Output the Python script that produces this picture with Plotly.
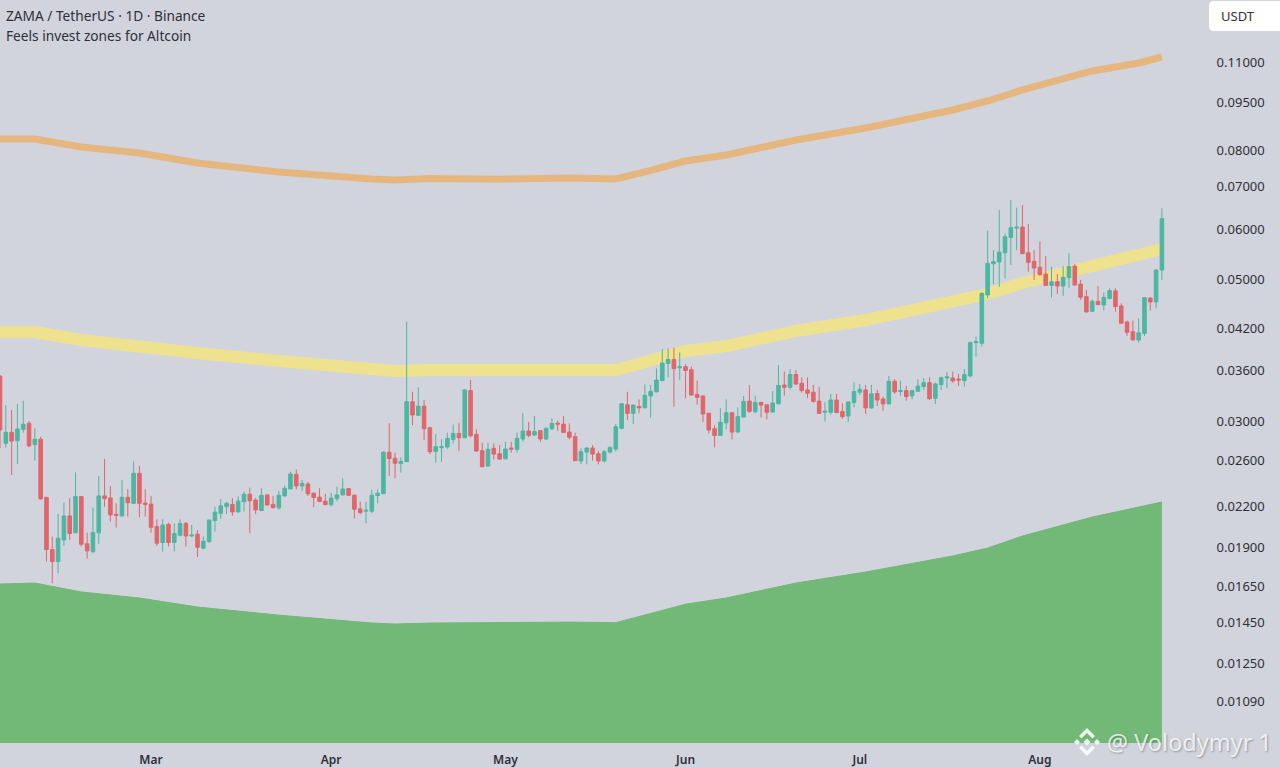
import plotly.graph_objects as go
import pandas as pd

# Daily candles, ZAMA/USDT (Feb 3 to Aug 22)
opens = [
    0.03530, 0.02769, 0.02881, 0.02796, 0.02913, 0.02976, 0.02756, 0.02810, 0.02275, 0.01885,
    0.01805, 0.01952, 0.02129, 0.02003, 0.02283, 0.01925, 0.01871, 0.02003, 0.02289, 0.02272,
    0.02142, 0.02129, 0.02278, 0.02228, 0.02484, 0.02230, 0.02222, 0.02048, 0.01934, 0.02065,
    0.01934, 0.01986, 0.02072, 0.01980, 0.01993, 0.01894, 0.01941, 0.02094, 0.02150, 0.02202,
    0.02220, 0.02160, 0.02241, 0.02303, 0.02255, 0.02171, 0.02297, 0.02220, 0.02192, 0.02289,
    0.02347, 0.02475, 0.02373, 0.02390, 0.02311, 0.02279, 0.02246, 0.02218, 0.02266, 0.02297,
    0.02350, 0.02294, 0.02184, 0.02166, 0.02166, 0.02292, 0.02308, 0.02681, 0.02623, 0.02573,
    0.02591, 0.03218, 0.03064, 0.03167, 0.02929, 0.02689, 0.02725, 0.02732, 0.02808, 0.02870,
    0.02825, 0.03351, 0.02860, 0.02696, 0.02550, 0.02719, 0.02666, 0.02618, 0.02722, 0.02709,
    0.02812, 0.02895, 0.02853, 0.02898, 0.02812, 0.02919, 0.02978, 0.02968, 0.02884, 0.02836,
    0.02597, 0.02682, 0.02722, 0.02666, 0.02597, 0.02682, 0.02712, 0.02923, 0.03183, 0.03086,
    0.03163, 0.03148, 0.03285, 0.03336, 0.03473, 0.03697, 0.03750, 0.03639, 0.03653, 0.03613,
    0.03305, 0.03285, 0.03086, 0.02919, 0.02849, 0.02982, 0.03093, 0.02884, 0.03045, 0.03226,
    0.03104, 0.03210, 0.03183, 0.03100, 0.03195, 0.03418, 0.03391, 0.03551, 0.03440, 0.03359,
    0.03331, 0.03226, 0.03098, 0.03098, 0.03238, 0.03105, 0.03056, 0.03208, 0.03331, 0.03359,
    0.03147, 0.03315, 0.03250, 0.03192, 0.03465, 0.03339, 0.03351, 0.03287, 0.03343, 0.03399,
    0.03448, 0.03258, 0.03424, 0.03507, 0.03507, 0.03494, 0.03473, 0.03533, 0.03985, 0.03976,
    0.04735, 0.05302, 0.05335, 0.05517, 0.05832, 0.06032, 0.06055, 0.05517, 0.05348, 0.05234,
    0.05109, 0.04902, 0.04967, 0.04891, 0.05041, 0.05257, 0.04926, 0.04706, 0.04464, 0.04628,
    0.04567, 0.04677, 0.04805, 0.04551, 0.04295, 0.04146, 0.04024, 0.04120, 0.04683, 0.04617,
    0.05183,
]
highs = [
    0.03546, 0.03179, 0.03123, 0.03190, 0.03230, 0.03000, 0.02923, 0.02835, 0.02283, 0.01976,
    0.02145, 0.02233, 0.02272, 0.02492, 0.02283, 0.02005, 0.02194, 0.02460, 0.02617, 0.02372,
    0.02228, 0.02424, 0.02345, 0.02591, 0.02551, 0.02345, 0.02289, 0.02103, 0.02103, 0.02077,
    0.02072, 0.02103, 0.02084, 0.02060, 0.02023, 0.01976, 0.02098, 0.02202, 0.02263, 0.02241,
    0.02271, 0.02284, 0.02325, 0.02358, 0.02271, 0.02353, 0.02303, 0.02289, 0.02330, 0.02376,
    0.02498, 0.02519, 0.02425, 0.02408, 0.02317, 0.02353, 0.02306, 0.02317, 0.02367, 0.02439,
    0.02353, 0.02303, 0.02241, 0.02241, 0.02339, 0.02344, 0.02690, 0.02979, 0.02675, 0.02633,
    0.04301, 0.03336, 0.03391, 0.03238, 0.02940, 0.02863, 0.02808, 0.02877, 0.02964, 0.02982,
    0.03367, 0.03481, 0.02912, 0.02774, 0.02774, 0.02768, 0.02751, 0.02784, 0.02784, 0.02880,
    0.03086, 0.02992, 0.03056, 0.02905, 0.02933, 0.03030, 0.03004, 0.03056, 0.02975, 0.02877,
    0.02719, 0.02728, 0.02751, 0.02696, 0.02702, 0.02735, 0.02968, 0.03203, 0.03336, 0.03187,
    0.03245, 0.03427, 0.03418, 0.03631, 0.03894, 0.03903, 0.03917, 0.03847, 0.03684, 0.03653,
    0.03473, 0.03297, 0.03093, 0.02957, 0.03142, 0.03245, 0.03097, 0.03152, 0.03285, 0.03418,
    0.03289, 0.03218, 0.03183, 0.03344, 0.03675, 0.03590, 0.03622, 0.03608, 0.03515, 0.03515,
    0.03420, 0.03399, 0.03211, 0.03311, 0.03311, 0.03200, 0.03223, 0.03456, 0.03432, 0.03420,
    0.03420, 0.03359, 0.03279, 0.03533, 0.03490, 0.03473, 0.03407, 0.03359, 0.03490, 0.03503,
    0.03515, 0.03448, 0.03524, 0.03580, 0.03589, 0.03558, 0.03623, 0.04000, 0.04072, 0.04776,
    0.05974, 0.05569, 0.06439, 0.05915, 0.06673, 0.06494, 0.06556, 0.06121, 0.05569, 0.05742,
    0.05452, 0.05244, 0.05109, 0.05257, 0.05505, 0.05296, 0.05000, 0.04822, 0.04662, 0.04891,
    0.04776, 0.04851, 0.04851, 0.04595, 0.04315, 0.04315, 0.04351, 0.04695, 0.04695, 0.05195,
    0.06480,
]
lows = [
    0.02720, 0.02726, 0.02469, 0.02569, 0.02878, 0.02730, 0.02601, 0.02256, 0.01805, 0.01669,
    0.01730, 0.01910, 0.01952, 0.02003, 0.01906, 0.01823, 0.01860, 0.01925, 0.02202, 0.02086,
    0.02041, 0.02124, 0.02124, 0.02222, 0.02119, 0.02124, 0.02003, 0.01910, 0.01871, 0.01906,
    0.01871, 0.01976, 0.01906, 0.01972, 0.01835, 0.01889, 0.01929, 0.02011, 0.02106, 0.02145,
    0.02130, 0.02160, 0.02163, 0.01999, 0.02142, 0.02166, 0.02208, 0.02187, 0.02176, 0.02284,
    0.02347, 0.02344, 0.02330, 0.02289, 0.02199, 0.02238, 0.02212, 0.02202, 0.02246, 0.02297,
    0.02289, 0.02109, 0.02142, 0.02073, 0.02150, 0.02228, 0.02303, 0.02460, 0.02439, 0.02490,
    0.02591, 0.02957, 0.03056, 0.02801, 0.02663, 0.02581, 0.02591, 0.02715, 0.02768, 0.02696,
    0.02825, 0.02829, 0.02686, 0.02538, 0.02544, 0.02612, 0.02609, 0.02612, 0.02676, 0.02676,
    0.02784, 0.02829, 0.02846, 0.02781, 0.02801, 0.02905, 0.02898, 0.02877, 0.02808, 0.02597,
    0.02569, 0.02566, 0.02600, 0.02566, 0.02584, 0.02669, 0.02686, 0.02912, 0.03012, 0.02968,
    0.03086, 0.03144, 0.03033, 0.03329, 0.03469, 0.03514, 0.03160, 0.03481, 0.03257, 0.03289,
    0.03183, 0.02992, 0.02870, 0.02728, 0.02843, 0.02912, 0.02808, 0.02877, 0.03038, 0.03093,
    0.03086, 0.03041, 0.03019, 0.03093, 0.03187, 0.03289, 0.03359, 0.03418, 0.03327, 0.03260,
    0.03208, 0.03079, 0.02995, 0.03071, 0.03086, 0.03027, 0.02992, 0.03154, 0.03295, 0.03079,
    0.03139, 0.03170, 0.03116, 0.03192, 0.03311, 0.03287, 0.03230, 0.03246, 0.03335, 0.03359,
    0.03238, 0.03192, 0.03359, 0.03379, 0.03448, 0.03407, 0.03399, 0.03515, 0.03789, 0.03928,
    0.04677, 0.04926, 0.04880, 0.05029, 0.05276, 0.05569, 0.05491, 0.05152, 0.05000, 0.05072,
    0.04891, 0.04695, 0.04752, 0.04718, 0.04862, 0.04902, 0.04651, 0.04448, 0.04453, 0.04562,
    0.04475, 0.04662, 0.04459, 0.04264, 0.04082, 0.04014, 0.03985, 0.04082, 0.04475, 0.04514,
    0.05000,
]
closes = [
    0.02906, 0.02881, 0.02792, 0.02916, 0.02966, 0.02743, 0.02810, 0.02264, 0.01885, 0.01805,
    0.01964, 0.02129, 0.01998, 0.02283, 0.01922, 0.01876, 0.02005, 0.02289, 0.02267, 0.02137,
    0.02132, 0.02278, 0.02233, 0.02484, 0.02228, 0.02220, 0.02043, 0.01929, 0.02060, 0.01934,
    0.01998, 0.02072, 0.01980, 0.01986, 0.01901, 0.01943, 0.02098, 0.02158, 0.02208, 0.02228,
    0.02160, 0.02246, 0.02303, 0.02249, 0.02176, 0.02294, 0.02215, 0.02194, 0.02294, 0.02353,
    0.02478, 0.02373, 0.02396, 0.02306, 0.02276, 0.02244, 0.02218, 0.02271, 0.02297, 0.02347,
    0.02294, 0.02181, 0.02155, 0.02173, 0.02294, 0.02311, 0.02681, 0.02620, 0.02576, 0.02594,
    0.03219, 0.03067, 0.03167, 0.02919, 0.02686, 0.02735, 0.02735, 0.02819, 0.02870, 0.02825,
    0.03359, 0.02846, 0.02692, 0.02544, 0.02709, 0.02663, 0.02615, 0.02712, 0.02712, 0.02819,
    0.02895, 0.02849, 0.02888, 0.02812, 0.02923, 0.02975, 0.02968, 0.02880, 0.02829, 0.02600,
    0.02686, 0.02722, 0.02663, 0.02597, 0.02686, 0.02728, 0.02940, 0.03195, 0.03086, 0.03179,
    0.03148, 0.03293, 0.03340, 0.03481, 0.03701, 0.03750, 0.03627, 0.03653, 0.03604, 0.03297,
    0.03269, 0.03079, 0.02905, 0.02849, 0.02989, 0.03093, 0.02884, 0.03049, 0.03222, 0.03108,
    0.03210, 0.03179, 0.03097, 0.03203, 0.03414, 0.03391, 0.03551, 0.03431, 0.03351, 0.03319,
    0.03222, 0.03086, 0.03109, 0.03238, 0.03094, 0.03049, 0.03215, 0.03339, 0.03367, 0.03147,
    0.03311, 0.03238, 0.03192, 0.03465, 0.03335, 0.03351, 0.03279, 0.03351, 0.03407, 0.03448,
    0.03254, 0.03432, 0.03511, 0.03520, 0.03469, 0.03481, 0.03550, 0.03985, 0.04000, 0.04764,
    0.05308, 0.05341, 0.05528, 0.05846, 0.06040, 0.06055, 0.05498, 0.05328, 0.05222, 0.05097,
    0.04902, 0.04967, 0.04891, 0.05047, 0.05250, 0.04908, 0.04695, 0.04453, 0.04628, 0.04573,
    0.04695, 0.04810, 0.04540, 0.04274, 0.04136, 0.04024, 0.04130, 0.04689, 0.04617, 0.05183,
    0.06240,
]

# Invest zones, read at the points where the curves bend
zone_dates = ["2026-02-03", "2026-02-09", "2026-02-17", "2026-02-27", "2026-03-09", "2026-03-23",
              "2026-04-08", "2026-04-12", "2026-04-18", "2026-04-30", "2026-05-12", "2026-05-20",
              "2026-05-25", "2026-06-01", "2026-06-08", "2026-06-20", "2026-07-02", "2026-07-17",
              "2026-07-23", "2026-07-29", "2026-08-10", "2026-08-18", "2026-08-22"]
orange_zone = [0.08326, 0.08326, 0.08089, 0.07914, 0.07633, 0.07389, 0.07204, 0.07178, 0.07220, 0.07200,
               0.07230, 0.07204, 0.07389, 0.07688, 0.07857, 0.08295, 0.08664, 0.09247, 0.09553, 0.09941,
               0.10648, 0.10960, 0.11201]
yellow_zone = [0.04142, 0.04142, 0.04024, 0.03951, 0.03839, 0.03729, 0.03609, 0.03596, 0.03609, 0.03609,
               0.03616, 0.03609, 0.03716, 0.03867, 0.03937, 0.04157, 0.04325, 0.04600, 0.04752, 0.04945,
               0.05278, 0.05492, 0.05592]
green_zone = [0.01664, 0.01670, 0.01617, 0.01582, 0.01531, 0.01487, 0.01445, 0.01440, 0.01445, 0.01447,
              0.01450, 0.01447, 0.01487, 0.01547, 0.01582, 0.01670, 0.01738, 0.01842, 0.01895, 0.01980,
              0.02120, 0.02199, 0.02239]

price_ticks = [0.11, 0.095, 0.08, 0.07, 0.06, 0.05, 0.042, 0.036, 0.03, 0.026, 0.022, 0.019,
               0.0165, 0.0145, 0.0125, 0.0109]
price_labels = ["0.11000", "0.09500", "0.08000", "0.07000", "0.06000", "0.05000", "0.04200", "0.03600",
                "0.03000", "0.02600", "0.02200", "0.01900", "0.01650", "0.01450", "0.01250", "0.01090"]

BG = "#D1D4DC"
TEXT = "#2E3038"
PLOT_W = 1205
PLOT_H = 743
Y_RANGE = [-2.0286, -0.8612]
X_RANGE = ["2026-02-03", "2026-08-29 10:00"]

dates = pd.date_range("2026-02-03", periods=len(opens))


# pixel position on the page -> paper coords, for the overlay bits only
def px(x, y):
    return x / PLOT_W, 1 - y / PLOT_H


def poly(points):
    parts = []
    for i, (x, y) in enumerate(points):
        u, v = px(x, y)
        parts.append(f"{'M' if i == 0 else 'L'} {u:.5f} {v:.5f}")
    return " ".join(parts) + " Z"


fig = go.Figure()

fig.add_trace(go.Scatter(x=zone_dates, y=green_zone, mode="lines", fill="tozeroy",
                         line=dict(color="#72B877", width=1), fillcolor="#72B877", hoverinfo="skip"))
fig.add_trace(go.Scatter(x=zone_dates, y=yellow_zone, mode="lines",
                         line=dict(color="#EFE28F", width=12), hoverinfo="skip"))
fig.add_trace(go.Scatter(x=zone_dates, y=orange_zone, mode="lines",
                         line=dict(color="#E5B77F", width=7), hoverinfo="skip"))

# on an overlaying axis so the candles sit on top of the zones
fig.add_trace(go.Candlestick(
    x=dates, open=opens, high=highs, low=lows, close=closes, yaxis="y2",
    whiskerwidth=0,
    increasing=dict(line=dict(color="#4DB6A2", width=1), fillcolor="#4DB6A2"),
    decreasing=dict(line=dict(color="#E0666B", width=1), fillcolor="#E0666B"),
))

# USDT button, rounded corners
bx0, by0, bx1, by1, r = 1209, 1, 1281, 31, 5
corners = [px(bx0 + r, by0), px(bx1, by0), px(bx1, by1), px(bx0 + r, by1), px(bx0, by1), px(bx0, by1 - r),
           px(bx0, by0 + r), px(bx0, by0)]
usdt_path = (f"M {corners[0][0]} {corners[0][1]} L {corners[1][0]} {corners[1][1]} "
             f"L {corners[2][0]} {corners[2][1]} L {corners[3][0]} {corners[3][1]} "
             f"Q {corners[4][0]} {corners[4][1]} {corners[5][0]} {corners[5][1]} "
             f"L {corners[6][0]} {corners[6][1]} Q {corners[7][0]} {corners[7][1]} {corners[0][0]} {corners[0][1]} Z")
shapes = [dict(type="path", xref="paper", yref="paper", path=usdt_path,
               fillcolor="white", line=dict(width=0), layer="above")]

# Binance mark of the watermark
cx, cy = 1087, 742
logo = [
    [(cx, cy - 3.5), (cx + 3.5, cy), (cx, cy + 3.5), (cx - 3.5, cy)],
    [(cx - 10, cy - 3), (cx - 7, cy), (cx - 10, cy + 3), (cx - 13, cy)],
    [(cx + 10, cy - 3), (cx + 13, cy), (cx + 10, cy + 3), (cx + 7, cy)],
    [(cx, cy - 14), (cx + 8, cy - 6), (cx + 5.5, cy - 3.5), (cx, cy - 9), (cx - 5.5, cy - 3.5), (cx - 8, cy - 6)],
    [(cx, cy + 14), (cx + 8, cy + 6), (cx + 5.5, cy + 3.5), (cx, cy + 9), (cx - 5.5, cy + 3.5), (cx - 8, cy + 6)],
]
for piece in logo:
    shapes.append(dict(type="path", xref="paper", yref="paper", path=poly(piece),
                       fillcolor="rgba(255,255,255,0.85)", line=dict(width=0), layer="above"))


def label(x, y, text, size=13, color=TEXT, **font_extra):
    u, v = px(x, y)
    return dict(xref="paper", yref="paper", x=u, y=v, text=text, showarrow=False,
                xanchor="left", yanchor="middle", align="left", xshift=-1,
                font=dict(family="Noto Sans", size=size, color=color, **font_extra))


annotations = [
    label(5, 15, "ZAMA / TetherUS · 1D · Binance", size=13.7),
    label(5, 35, "Feels invest zones for Altcoin", size=13.7),
    label(1220, 16, "USDT"),
    label(1106, 742, "@ Volodymyr 1", size=23.5, color="rgba(255,255,255,0.8)",
          shadow="1px 1px 2px rgba(60,60,60,0.5)"),
]

fig.update_layout(
    width=1280, height=768,
    margin=dict(l=0, r=1280 - PLOT_W, t=0, b=768 - PLOT_H, pad=0),
    paper_bgcolor=BG, plot_bgcolor=BG,
    showlegend=False,
    boxgap=0.12,
    shapes=shapes,
    annotations=annotations,
    xaxis=dict(
        type="date", range=X_RANGE, rangeslider=dict(visible=False),
        tick0="2026-03-01", dtick="M1", tickformat="%b",
        showgrid=False, zeroline=False, showline=False,
        ticks="outside", ticklen=6, tickcolor="rgba(0,0,0,0)",
        tickfont=dict(family="Noto Sans", size=12, color=TEXT, weight=600),
    ),
    yaxis=dict(
        type="log", range=Y_RANGE, side="right",
        tickmode="array", tickvals=price_ticks, ticktext=price_labels,
        showgrid=False, zeroline=False, showline=False,
        ticks="outside", ticklen=8, tickcolor="rgba(0,0,0,0)",
        tickfont=dict(family="Noto Sans", size=13, color=TEXT),
    ),
    yaxis2=dict(type="log", range=Y_RANGE, overlaying="y", side="right", visible=False),
)

# the page's default body margin would shift the chart by 8px
fig.write_html("out.html", config={"displayModeBar": False},
               post_script="document.body.style.margin='0';")
